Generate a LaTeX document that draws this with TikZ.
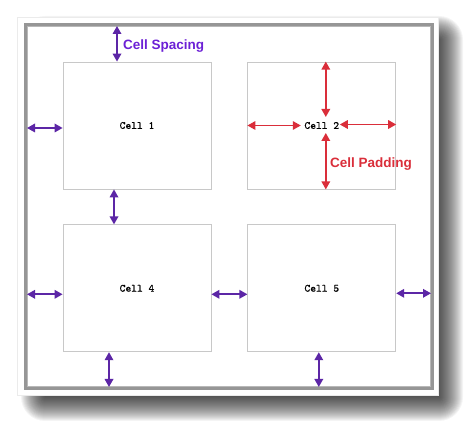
\documentclass[tikz,border=0pt]{standalone}
\usepackage{fontspec}
\usepackage{xcolor}
\usepackage{tikz}
\usetikzlibrary{positioning,arrows.meta,calc}
\newfontfamily\lblfont{Liberation Sans}
\newfontfamily\cellfont{Latin Modern Mono}[FakeBold=0.6]
\definecolor{spacing}{RGB}{92,38,166}
\definecolor{spacingtxt}{RGB}{108,32,214}
\definecolor{padding}{RGB}{218,46,58}
\definecolor{tblborder}{RGB}{150,150,150}
\definecolor{cellborder}{RGB}{200,200,200}

\begin{document}
\begin{tikzpicture}[
    x=1pt,y=1pt,
    node distance=35pt and 36pt,
    cellbox/.style={draw=cellborder,line width=0.8pt,fill=white,minimum width=148pt,minimum height=127pt,inner sep=0pt,font=\cellfont\fontsize{11}{12}\selectfont},
    spc/.style={draw=spacing,line width=1.7pt,{Triangle[length=8pt,width=8.5pt]}-{Triangle[length=8pt,width=8.5pt]}},
    pad/.style={draw=padding,line width=1.6pt,{Triangle[length=8pt,width=8.5pt]}-{Triangle[length=8pt,width=8.5pt]}},
    lbl/.style={font=\lblfont\bfseries\fontsize{13.5}{15}\selectfont,inner sep=0pt,anchor=west}
  ]
    \useasboundingbox (0,0) rectangle (474,431);
    % soft drop shadow behind the card
    \foreach \e in {0,...,24}
      \fill[black,opacity=0.042,rounded corners=\e pt] ({45-\e},{34-\e}) rectangle ({439+\e},{391+\e});
    \fill[white,draw=black!8,line width=0.6pt] (17,36) rectangle (438,414);

    % table frame
    \node[draw=tblborder,line width=3pt,minimum width=407pt,minimum height=364pt,inner sep=0pt,outer sep=-1.5pt] (tbl) at (229,224.5) {};
    \draw[black!28,line width=0.8pt] ([shift={(0.4pt,0.4pt)}]tbl.south west) rectangle ([shift={(-0.4pt,-0.4pt)}]tbl.north east);

    % cells
    \node[cellbox] (cellA) at (137,305.5) {Cell 1};
    \node[cellbox,right=of cellA] (cellB) {Cell 2};
    \node[cellbox,below=of cellA] (cellD) {Cell 4};
    \node[cellbox,right=of cellD] (cellE) {Cell 5};

    % cell spacing
    \coordinate (spTop) at ([xshift=-20pt]cellA.north);
    \coordinate (spA) at ([yshift=-2.5pt]cellA.west);
    \coordinate (spAD) at ([xshift=-23pt]cellA.south);
    \coordinate (spD) at ([yshift=-6pt]cellD.west);
    \coordinate (spDE) at ([yshift=-6pt]cellD.east);
    \coordinate (spE) at ([yshift=-5pt]cellE.east);
    \coordinate (spDB) at ([xshift=-28pt]cellD.south);
    \coordinate (spEB) at ([xshift=-3pt]cellE.south);
    \draw[spc] (tbl.north -| spTop) -- (spTop);
    \node[lbl,text=spacingtxt] (spLbl) at (123,385) {Cell Spacing};
    \draw[spc] (tbl.west |- spA) -- (spA);
    \draw[spc] (spAD) -- (cellD.north -| spAD);
    \draw[spc] (tbl.west |- spD) -- (spD);
    \draw[spc] (spDE) -- (cellE.west |- spDE);
    \draw[spc] (spE) -- (tbl.east |- spE);
    \draw[spc] (spDB) -- (tbl.south -| spDB);
    \draw[spc] (spEB) -- (tbl.south -| spEB);

    % cell padding
    \coordinate (padN) at ([shift={(4pt,8.5pt)}]cellB.center);
    \coordinate (padS) at ([shift={(4pt,-7.5pt)}]cellB.center);
    \coordinate (padW) at ([xshift=-21pt]cellB.center);
    \coordinate (padE) at ([shift={(18pt,1pt)}]cellB.center);
    \draw[pad] (cellB.north -| padN) -- (padN);
    \draw[pad] (padS) -- (cellB.south -| padS);
    \draw[pad] (cellB.west |- padW) -- (padW);
    \draw[pad] (padE) -- (cellB.east |- padE);
    \node[lbl,text=padding] (padLbl) at ([shift={(4pt,-31.5pt)}]padS) {Cell Padding};
  \end{tikzpicture}
\end{document}
